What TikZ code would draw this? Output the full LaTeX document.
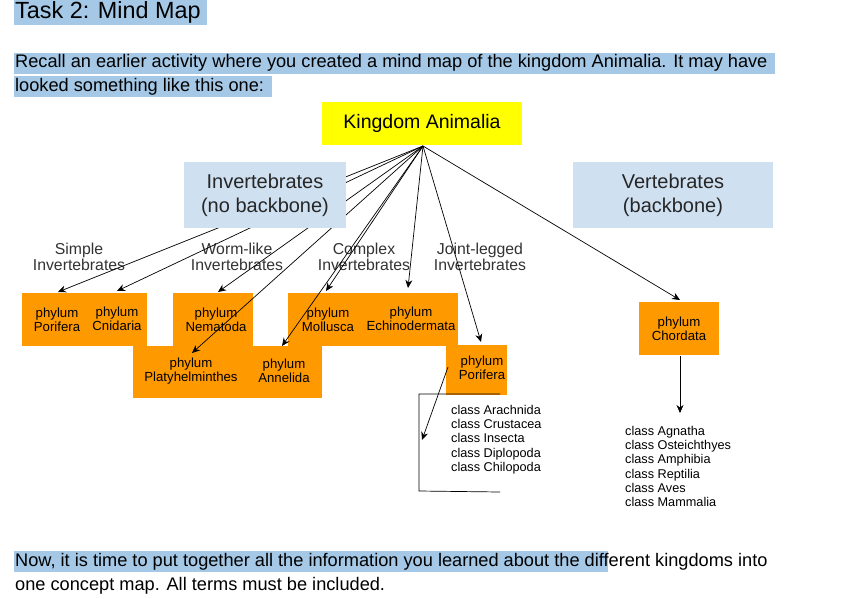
\documentclass[tikz,border=0pt]{standalone}
\usepackage{fontspec}
\setmainfont{Liberation Sans}
\usetikzlibrary{arrows.meta}
\definecolor{hl}{HTML}{A4C8E6}
\definecolor{lb}{HTML}{CFE0F1}
\definecolor{org}{HTML}{FF9900}
\definecolor{ylw}{HTML}{FFFF00}
\begin{document}
\begin{tikzpicture}[x=1pt,y=-1pt,
  txt/.style={inner sep=0,anchor=west,font=\fontsize{18.2}{20}\selectfont},
  lab/.style={inner sep=0,align=center,font=\fontsize{15.8}{16}\selectfont,text=black!80},
  ph/.style={inner sep=0,align=center,font=\fontsize{13.2}{14.5}\selectfont},
  cls/.style={inner sep=0,anchor=north west,align=left,font=\fontsize{12.7}{14.2}\selectfont},
  arr/.style={-{Stealth[length=8pt,width=7pt]},line width=0.7pt},
  ln/.style={line width=0.7pt}]
\useasboundingbox (0,0) rectangle (841,598);
\fill[white] (0,0) rectangle (841,598);
% highlights
\fill[hl] (14,0) rectangle (207,25);
\fill[hl] (14,53) rectangle (775,74);
\fill[hl] (14,76) rectangle (272,97);
\fill[hl] (14,551) rectangle (608,572);
\node[txt,font=\fontsize{23.4}{26}\selectfont] (title) at (15,12) {Task 2: Mind Map};
\node[txt] (p1) at (15,63) {Recall an earlier activity where you created a mind map of the kingdom Animalia. It may have};
\node[txt] (p2) at (15,87) {looked something like this one:};
\node[txt] (p3) at (15,562) {Now, it is time to put together all the information you learned about the different kingdoms into};
\node[txt] (p4) at (15,586) {one concept map. All terms must be included.};
% orange boxes
\fill[org] (22,293) rectangle (147,346);
\fill[org] (173,293) rectangle (253,346);
\fill[org] (133,346) rectangle (322,398);
\fill[org] (288,293) rectangle (458,346);
\fill[org] (446,345) rectangle (507,395);
\fill[org] (639,302) rectangle (719,355);
\node[ph] (por) at (57,320) {phylum\\Porifera};
\node[ph] (cni) at (117,319) {phylum\\Cnidaria};
\node[ph] (nem) at (216,320) {phylum\\Nematoda};
\node[ph] (pla) at (191,371) {phylum\\Platyhelminthes};
\node[ph] (ann) at (284,371) {phylum\\Annelida};
\node[ph] (mol) at (328,320) {phylum\\Mollusca};
\node[ph] (ech) at (411,319) {phylum\\Echinodermata};
\node[ph] (por2) at (482,368) {phylum\\Porifera};
\node[ph] (cho) at (679,329) {phylum\\Chordata};
% labels
\node[lab] (l1) at (79,257) {Simple\\Invertebrates};
\node[lab] (l2) at (237,257) {Worm-like\\Invertebrates};
\node[lab] (l3) at (364,257) {Complex\\Invertebrates};
\node[lab] (l4) at (480,257) {Joint-legged\\Invertebrates};
% apex
\coordinate (apex) at (423,146);
\coordinate (tpor) at (58,292);
\coordinate (tcni) at (117,291);
\coordinate (tnem) at (218,292);
\coordinate (tpla) at (192,353);
\coordinate (tann) at (282,346);
\coordinate (tmol) at (326,291);
\coordinate (tech) at (408,288);
\coordinate (tpor2) at (481,342);
\coordinate (tcho) at (680,300);
\foreach \t in {tpor,tcni,tnem,tpla,tann,tmol,tech,tpor2,tcho} \draw[arr] (apex) -- (\t);
% top boxes
\node[fill=ylw,minimum width=200pt,minimum height=43pt,inner sep=0,font=\fontsize{19.5}{22}\selectfont] (king) at (422,123.5) {Kingdom Animalia};
\node[fill=lb,minimum width=162pt,minimum height=66pt,inner sep=0,align=center,font=\fontsize{20}{24}\selectfont,text=black!85] (inv) at (265,195) {Invertebrates\\(no backbone)};
\node[fill=lb,minimum width=200pt,minimum height=66pt,inner sep=0,align=center,font=\fontsize{20}{24}\selectfont,text=black!85] (ver) at (673,195) {Vertebrates\\(backbone)};
% bracket
\coordinate (b1) at (500,394);
\coordinate (b2) at (419,394);
\coordinate (b3) at (419,491);
\coordinate (b4) at (500,492);
\draw[ln] (b1) -- (b2) -- (b3) -- (b4);
\coordinate (s1) at (448,367);
\coordinate (s2) at (422,440);
\draw[arr] (s1) -- (s2);
\node[cls] (c1) at (451,405) {class Arachnida\\class Crustacea\\class Insecta\\class Diplopoda\\class Chilopoda};
\coordinate (s0) at (680,356);
\coordinate (s3) at (680,413);
\draw[arr] (s0) -- (s3);
\node[cls] (c2) at (625,426) {class Agnatha\\class Osteichthyes\\class Amphibia\\class Reptilia\\class Aves\\class Mammalia};
\end{tikzpicture}
\end{document}
